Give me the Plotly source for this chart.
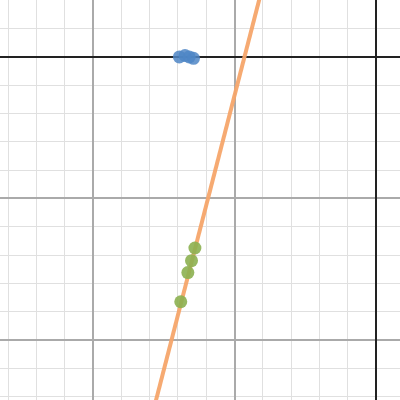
import plotly.graph_objects as go

# blue points sitting on the x-axis
blue_x = [-6.95, -6.75, -6.6, -6.45]
blue_y = [0.0, 0.05, 0.0, -0.05]

# green points on the line
green_x = [-6.40, -6.52, -6.65, -6.90]
green_y = [-6.75, -7.20, -7.62, -8.65]

# orange fitted line endpoints
line_x = [-3.9, -8.0]
line_y = [2.9, -13.0]

fig = go.Figure()
fig.add_trace(go.Scatter(x=line_x, y=line_y, mode='lines',
                         line=dict(color='#f6a66b', width=4), opacity=0.95))
fig.add_trace(go.Scatter(x=blue_x, y=blue_y, mode='markers',
                         marker=dict(size=13, color='#4f86c6', opacity=0.85)))
fig.add_trace(go.Scatter(x=green_x, y=green_y, mode='markers',
                         marker=dict(size=13, color='#8cb050', opacity=0.9)))

axis = dict(showticklabels=False, ticks='', dtick=5, gridcolor='#aaaaaa', gridwidth=1.5,
            minor=dict(dtick=1, showgrid=True, gridcolor='#e0e0e0', gridwidth=1),
            zeroline=True, zerolinecolor='#222222', zerolinewidth=2, showline=False)
fig.update_layout(width=400, height=400, margin=dict(l=0, r=0, t=0, b=0),
                  plot_bgcolor='white', paper_bgcolor='white', showlegend=False,
                  xaxis=dict(axis, range=[-13.29, 0.85]),
                  yaxis=dict(axis, range=[-12.12, 2.01]))
fig.write_html("out.html", config=dict(displayModeBar=False),
               post_script="document.body.style.margin='0';")
